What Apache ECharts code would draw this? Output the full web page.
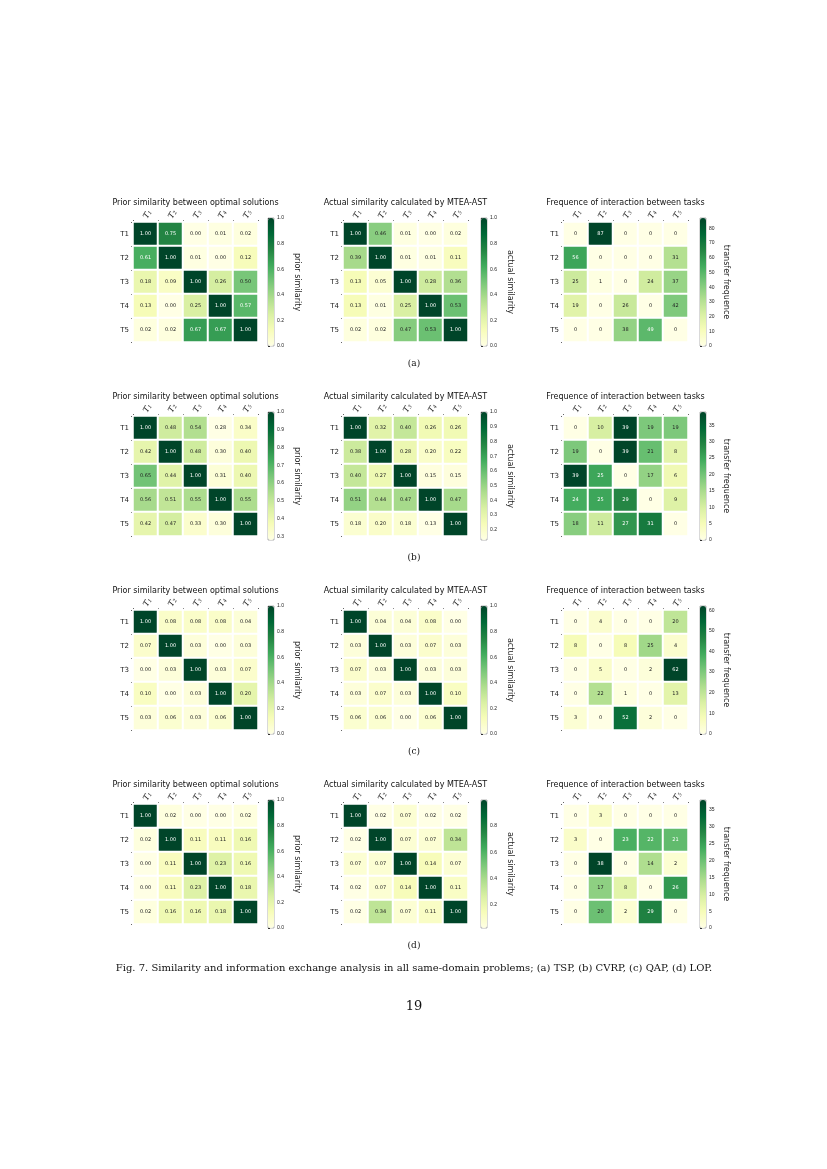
<!DOCTYPE html>
<html>
<head>
<meta charset="utf-8">
<script src="https://cdn.jsdelivr.net/npm/echarts@6/dist/echarts.min.js"></script>
<style>html,body{margin:0;background:#fff}#c{width:827px;height:1169px}</style>
</head>
<body>
<div id="c"></div>
<script>
var tasks = ['T1', 'T2', 'T3', 'T4', 'T5'];
var panelLabels = ['(a)', '(b)', '(c)', '(d)'];
var titles = ['Prior similarity between optimal solutions', 'Actual similarity calculated by MTEA-AST', 'Frequence of interaction between tasks'];
var barNames = ['prior similarity', 'actual similarity', 'transfer frequence'];

// (a) TSP
var priorA = [[1.00,0.75,0.00,0.01,0.02],[0.61,1.00,0.01,0.00,0.12],[0.18,0.09,1.00,0.26,0.50],[0.13,0.00,0.25,1.00,0.57],[0.02,0.02,0.67,0.67,1.00]];
var actualA = [[1.00,0.46,0.01,0.00,0.02],[0.39,1.00,0.01,0.01,0.11],[0.13,0.05,1.00,0.28,0.36],[0.13,0.01,0.25,1.00,0.53],[0.02,0.02,0.47,0.53,1.00]];
var freqA = [[0,87,0,0,0],[56,0,0,0,31],[25,1,0,24,37],[19,0,26,0,42],[0,0,38,49,0]];
// (b) CVRP
var priorB = [[1.00,0.48,0.54,0.28,0.34],[0.42,1.00,0.48,0.30,0.40],[0.65,0.44,1.00,0.31,0.40],[0.56,0.51,0.55,1.00,0.55],[0.42,0.47,0.33,0.30,1.00]];
var actualB = [[1.00,0.32,0.40,0.26,0.26],[0.38,1.00,0.28,0.20,0.22],[0.40,0.27,1.00,0.15,0.15],[0.51,0.44,0.47,1.00,0.47],[0.18,0.20,0.18,0.13,1.00]];
var freqB = [[0,10,39,19,19],[19,0,39,21,8],[39,25,0,17,6],[24,25,29,0,9],[18,11,27,31,0]];
// (c) QAP
var priorC = [[1.00,0.08,0.08,0.08,0.04],[0.07,1.00,0.03,0.00,0.03],[0.00,0.03,1.00,0.03,0.07],[0.10,0.00,0.03,1.00,0.20],[0.03,0.06,0.03,0.06,1.00]];
var actualC = [[1.00,0.04,0.04,0.08,0.00],[0.03,1.00,0.03,0.07,0.03],[0.07,0.03,1.00,0.03,0.03],[0.03,0.07,0.03,1.00,0.10],[0.06,0.06,0.00,0.06,1.00]];
var freqC = [[0,4,0,0,20],[8,0,8,25,4],[0,5,0,2,62],[0,22,1,0,13],[3,0,52,2,0]];
// (d) LOP
var priorD = [[1.00,0.02,0.00,0.00,0.02],[0.02,1.00,0.11,0.11,0.16],[0.00,0.11,1.00,0.23,0.16],[0.00,0.11,0.23,1.00,0.18],[0.02,0.16,0.16,0.18,1.00]];
var actualD = [[1.00,0.02,0.07,0.02,0.02],[0.02,1.00,0.07,0.07,0.34],[0.07,0.07,1.00,0.14,0.07],[0.02,0.07,0.14,1.00,0.11],[0.02,0.34,0.07,0.11,1.00]];
var freqD = [[0,3,0,0,0],[3,0,23,22,21],[0,38,0,14,2],[0,17,8,0,26],[0,20,2,29,0]];

var matrices = [[priorA, actualA, freqA], [priorB, actualB, freqB], [priorC, actualC, freqC], [priorD, actualD, freqD]];
// colour bar tick values per panel
var barTicks = [
  [[0,0.2,0.4,0.6,0.8,1.0],[0,0.2,0.4,0.6,0.8,1.0],[0,10,20,30,40,50,60,70,80]],
  [[0.3,0.4,0.5,0.6,0.7,0.8,0.9,1.0],[0.2,0.3,0.4,0.5,0.6,0.7,0.8,0.9,1.0],[0,5,10,15,20,25,30,35]],
  [[0,0.2,0.4,0.6,0.8,1.0],[0,0.2,0.4,0.6,0.8,1.0],[0,10,20,30,40,50,60]],
  [[0,0.2,0.4,0.6,0.8,1.0],[0.2,0.4,0.6,0.8],[0,5,10,15,20,25,30,35]]
];

var YlGn = ['#ffffe5','#f7fcb9','#d9f0a3','#addd8e','#78c679','#41ab5d','#238443','#006837','#004529'];
var colLeft = [133, 343, 563];
var barLeft = [268, 481, 700];
var rowTop = [222, 416, 610, 804];
var cellW = 125, cellH = 120;

var grids = [], xAxes = [], yAxes = [], series = [], visualMaps = [], graphics = [];
var gi = 0;
matrices.forEach(function (row, r) {
  row.forEach(function (m, c) {
    var flat = [].concat.apply([], m);
    var mn = Math.min.apply(null, flat), mx = Math.max.apply(null, flat);
    var isFreq = c === 2;
    var data = [];
    m.forEach(function (rowv, i) {
      rowv.forEach(function (v, j) {
        var t = (v - mn) / (mx - mn);
        data.push({ value: [j, i, v], label: { color: t > 0.55 ? '#fff' : '#222' } });
      });
    });
    // heatmap grid
    grids.push({ left: colLeft[c], top: rowTop[r], width: cellW, height: cellH });
    xAxes.push({
      type: 'category', gridIndex: gi, data: tasks, position: 'top',
      axisLine: { show: false }, axisTick: { show: true, length: 2, lineStyle: { color: '#333' } },
      axisLabel: {
        rotate: -60, fontSize: 7, color: '#222', margin: 4, fontFamily: 'DejaVu Serif',
        formatter: function (v) { return '{t|T}{s|' + v.slice(1) + '}'; },
        rich: { t: { fontStyle: 'italic', fontSize: 8, fontFamily: 'DejaVu Serif' }, s: { fontSize: 5, verticalAlign: 'bottom', fontStyle: 'italic' } }
      }
    });
    yAxes.push({
      type: 'category', gridIndex: gi, data: tasks, inverse: true,
      axisLine: { show: false }, axisTick: { show: true, length: 2, lineStyle: { color: '#333' } },
      axisLabel: { fontSize: 7, color: '#222', margin: 4, fontFamily: 'DejaVu Sans' }
    });
    series.push({
      type: 'heatmap', xAxisIndex: gi, yAxisIndex: gi, data: data,
      itemStyle: { borderColor: '#fff', borderWidth: 2 },
      label: { show: true, fontSize: 5, fontFamily: 'DejaVu Sans', formatter: function (p) { return isFreq ? String(p.value[2]) : p.value[2].toFixed(2); } }
    });
    visualMaps.push({
      type: 'continuous', seriesIndex: gi, min: mn, max: mx, calculable: false,
      orient: 'vertical', left: barLeft[c], top: rowTop[r] - 4, itemWidth: 6, itemHeight: cellH + 8,
      padding: 0, text: null, showLabel: false, inRange: { color: YlGn }
    });
    // colour bar ticks/label axis
    grids.push({ left: barLeft[c], top: rowTop[r] - 4, width: 6, height: cellH + 8, show: true, borderColor: '#666', borderWidth: 0.5, backgroundColor: 'transparent' });
    xAxes.push({ type: 'value', gridIndex: gi + 1, show: false });
    yAxes.push({
      type: 'value', gridIndex: gi + 1, position: 'right', min: mn, max: mx,
      splitLine: { show: false }, axisLine: { show: false },
      axisTick: { show: true, length: 2, customValues: barTicks[r][c], lineStyle: { color: '#333' } },
      axisLabel: { fontSize: 5, color: '#222', margin: 3, customValues: barTicks[r][c],
        formatter: function (v) { return isFreq ? String(v) : v.toFixed(1); } },
      name: barNames[c], nameLocation: 'middle', nameRotate: -90, nameGap: isFreq ? 16 : 19,
      nameTextStyle: { fontSize: 8, color: '#222', fontFamily: 'DejaVu Sans' }
    });
    series.push({ type: 'scatter', xAxisIndex: gi + 1, yAxisIndex: gi + 1, data: [], silent: true });
    graphics.push({
      type: 'text', x: colLeft[c] + cellW / 2, y: rowTop[r] - 23,
      style: { text: titles[c], fontSize: 8, fill: '#111', fontFamily: 'DejaVu Sans', textAlign: 'center' }
    });
    gi += 2;
  });
  graphics.push({
    type: 'text', x: 414, y: rowTop[r] + 137,
    style: { text: panelLabels[r], fontSize: 9, fill: '#111', fontFamily: 'DejaVu Serif', textAlign: 'center' }
  });
});
graphics.push({
  type: 'text', x: 414, y: 963,
  style: { text: 'Fig. 7. Similarity and information exchange analysis in all same-domain problems; (a) TSP, (b) CVRP, (c) QAP, (d) LOP.', fontSize: 10, fill: '#111', fontFamily: 'DejaVu Serif', textAlign: 'center' }
});
graphics.push({
  type: 'text', x: 414, y: 1000,
  style: { text: '19', fontSize: 13, fill: '#111', fontFamily: 'DejaVu Serif', textAlign: 'center' }
});

var chart = echarts.init(document.getElementById('c'));
chart.setOption({
  backgroundColor: '#fff',
  animation: false,
  grid: grids, xAxis: xAxes, yAxis: yAxes, visualMap: visualMaps, series: series, graphic: graphics
});
</script>
</body>
</html>
